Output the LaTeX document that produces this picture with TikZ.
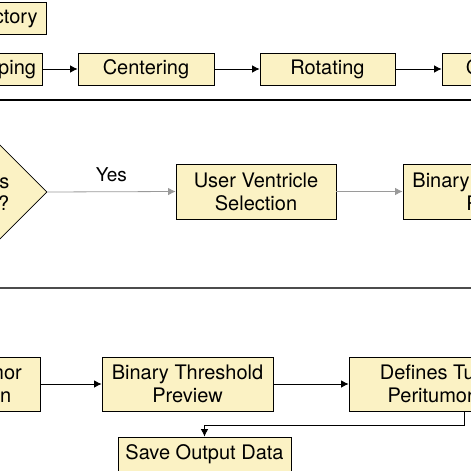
\documentclass[tikz,border=0pt]{standalone}
\usepackage{fontspec}
\setmainfont{TeX Gyre Heros}
\usepackage{tikz}
\usetikzlibrary{shapes.geometric}
\usetikzlibrary{arrows.meta}
\usetikzlibrary{shadows}
\definecolor{boxfill}{HTML}{FBF2C4}
\definecolor{greyline}{HTML}{9A9A9A}
\tikzset{>={Latex[length=7.5pt,width=7.5pt]}}
\tikzset{
  stage/.style={draw=black, line width=0.8pt, fill=boxfill, align=center,
    inner sep=0pt, font=\fontsize{20}{23}\selectfont,
    drop shadow={shadow xshift=0.7pt, shadow yshift=-0.9pt, fill=black!80, opacity=1}},
  query/.style={diamond, draw=black, line width=0.6pt, fill=boxfill, align=right,
    inner sep=0pt, minimum size=162pt, font=\fontsize{20}{22}\selectfont},
  flow/.style={->, line width=0.8pt, black},
  greyflow/.style={->, line width=0.8pt, greyline}
}

\begin{document}
\begin{tikzpicture}[x=1pt, y=-1pt]
      \useasboundingbox (0,0) rectangle (471,471);
      \clip (0,0) rectangle (471,471);
      % first band
      \node[stage, minimum width=158pt, minimum height=32pt] (dir) at (-33,18) {Select Directory};
      \node[stage, minimum width=82pt, minimum height=32pt] (flip) at (1,69) {Flipping};
      \node[stage, minimum width=136pt, minimum height=32pt] (cent) at (146,69) {Centering};
      \node[stage, minimum width=135pt, minimum height=32pt] (rot) at (327.5,69) {Rotating};
      \node[stage, minimum width=129pt, minimum height=32pt] (crop) at (506.5,69) {Cropping};
      \draw[flow] (flip) -- (cent);
      \draw[flow] (cent) -- (rot);
      \draw[flow] (rot) -- (crop);
      \coordinate (r1a) at (0,100);
      \coordinate (r1b) at (471,100);
      \draw[line width=1.8pt, black] (r1a) -- (r1b);
      % second band
      \node[query] (vis) at (-34,192) {Ventricles\\Visible?};
      \node[stage, minimum width=160pt, minimum height=55pt] (uvs) at (256,191.5) {User Ventricle\\Selection};
      \node[stage, minimum width=197pt, minimum height=55pt] (bin1) at (501.5,191.5) {Binary Thresholding\\Preview};
      \draw[greyflow] (vis.east) -- node[above=10pt, inner sep=0pt, black,
        font=\fontsize{19}{22}\selectfont] (yes) {Yes} (uvs.west);
      \draw[greyflow] (uvs) -- (bin1);
      \coordinate (r2a) at (0,288);
      \coordinate (r2b) at (471,288);
      \draw[line width=1.2pt, black!70] (r2a) -- (r2b);
      % third band
      \node[stage, minimum width=140pt, minimum height=54pt] (uts) at (-30,384) {User Tumor\\Selection};
      \node[stage, minimum width=171pt, minimum height=54pt] (bin2) at (187.5,384) {Binary Threshold\\Preview};
      \node[stage, minimum width=230pt, minimum height=54pt] (def) at (464,384) {Defines Tumor and\\Peritumoral Zone};
      \node[stage, minimum width=173pt, minimum height=34pt] (save) at (204.5,454) {Save Output Data};
      \draw[flow] (uts) -- (bin2);
      \draw[flow] (bin2) -- (def);
      \draw[flow] (def.south) -- ++(0,14) -| (save.north);
    \end{tikzpicture}
\end{document}
